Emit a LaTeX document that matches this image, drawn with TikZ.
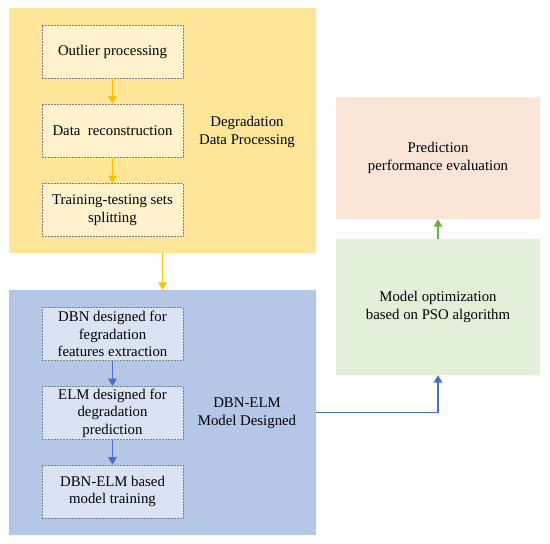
\documentclass[tikz,border=0pt]{standalone}
\usepackage{fontspec}
\setmainfont{Liberation Serif}
\usetikzlibrary{arrows.meta}
\definecolor{goldbg}{HTML}{FFE699}
\definecolor{goldin}{HTML}{FFF2CC}
\definecolor{bluebg}{HTML}{B4C7E7}
\definecolor{bluein}{HTML}{DAE3F3}
\definecolor{pinkbg}{HTML}{FBE5D6}
\definecolor{greenbg}{HTML}{E2F0D9}
\definecolor{goldarr}{HTML}{FFC000}
\definecolor{bluearr}{HTML}{4472C4}
\definecolor{greenarr}{HTML}{70AD47}
\tikzset{panel/.style={rectangle, inner sep=0pt, minimum width=307pt, minimum height=245pt}}
\tikzset{stage/.style={rectangle, draw=gray, dash pattern=on 2pt off 1pt, line width=0.6pt,
   minimum width=141pt, minimum height=53pt, inner sep=0pt, align=center}}
\tikzset{result/.style={rectangle, inner sep=0pt, minimum width=204pt, align=center}}
\tikzset{flow/.style={line width=1.2pt, -{Triangle[length=7.5pt,width=8.5pt]}}}
\tikzset{every node/.style={font=\fontsize{14.8}{17.5}\selectfont}}

\begin{document}
\begin{tikzpicture}[x=1pt, y=-1pt]

    \useasboundingbox (0,0) rectangle (550,544);

    % left panels
    \node[panel, fill=goldbg] (bgdata) at (162.5,130.5) {};
    \node[panel, fill=bluebg] (bgmodel) at (162.5,412.5) {};

    \node[stage, fill=goldin] (outlier) at (112.5,51.5) {Outlier processing};
    \node[stage, fill=goldin] (recon) at (112.5,130.5) {Data\ \ reconstruction};
    \node[stage, fill=goldin] (split) at (112.5,210) {Training-testing sets\\splitting};
    \node[align=center] (lbldata) at (247,132) {Degradation\\Data Processing};

    \node[stage, fill=bluein] (dbn) at (112.5,334) {DBN designed for\\fegradation\\features extraction};
    \node[stage, fill=bluein] (elm) at (112.5,413) {ELM designed for\\degradation\\prediction};
    \node[stage, fill=bluein] (train) at (112.5,491.5) {DBN-ELM based\\model training};
    \node[align=center] (lblmodel) at (247,413) {DBN-ELM\\Model Designed};

    % right column
    \node[result, fill=pinkbg, minimum height=122pt] (evalbox) at (438,158) {Prediction\\performance evaluation};
    \node[result, fill=greenbg, minimum height=136pt] (pso) at (438,307) {Model optimization\\based on PSO algorithm};

    \draw[flow, goldarr] (outlier) -- (recon);
    \draw[flow, goldarr] (recon) -- (split);
    \draw[flow, goldarr] (bgdata) -- (bgmodel);
    \draw[flow, bluearr] (dbn) -- (elm);
    \draw[flow, bluearr] (elm) -- (train);
    \draw[flow, bluearr] (bgmodel.east) -| (pso.south);
    \draw[flow, greenarr] (pso) -- (evalbox);

  \end{tikzpicture}
\end{document}
